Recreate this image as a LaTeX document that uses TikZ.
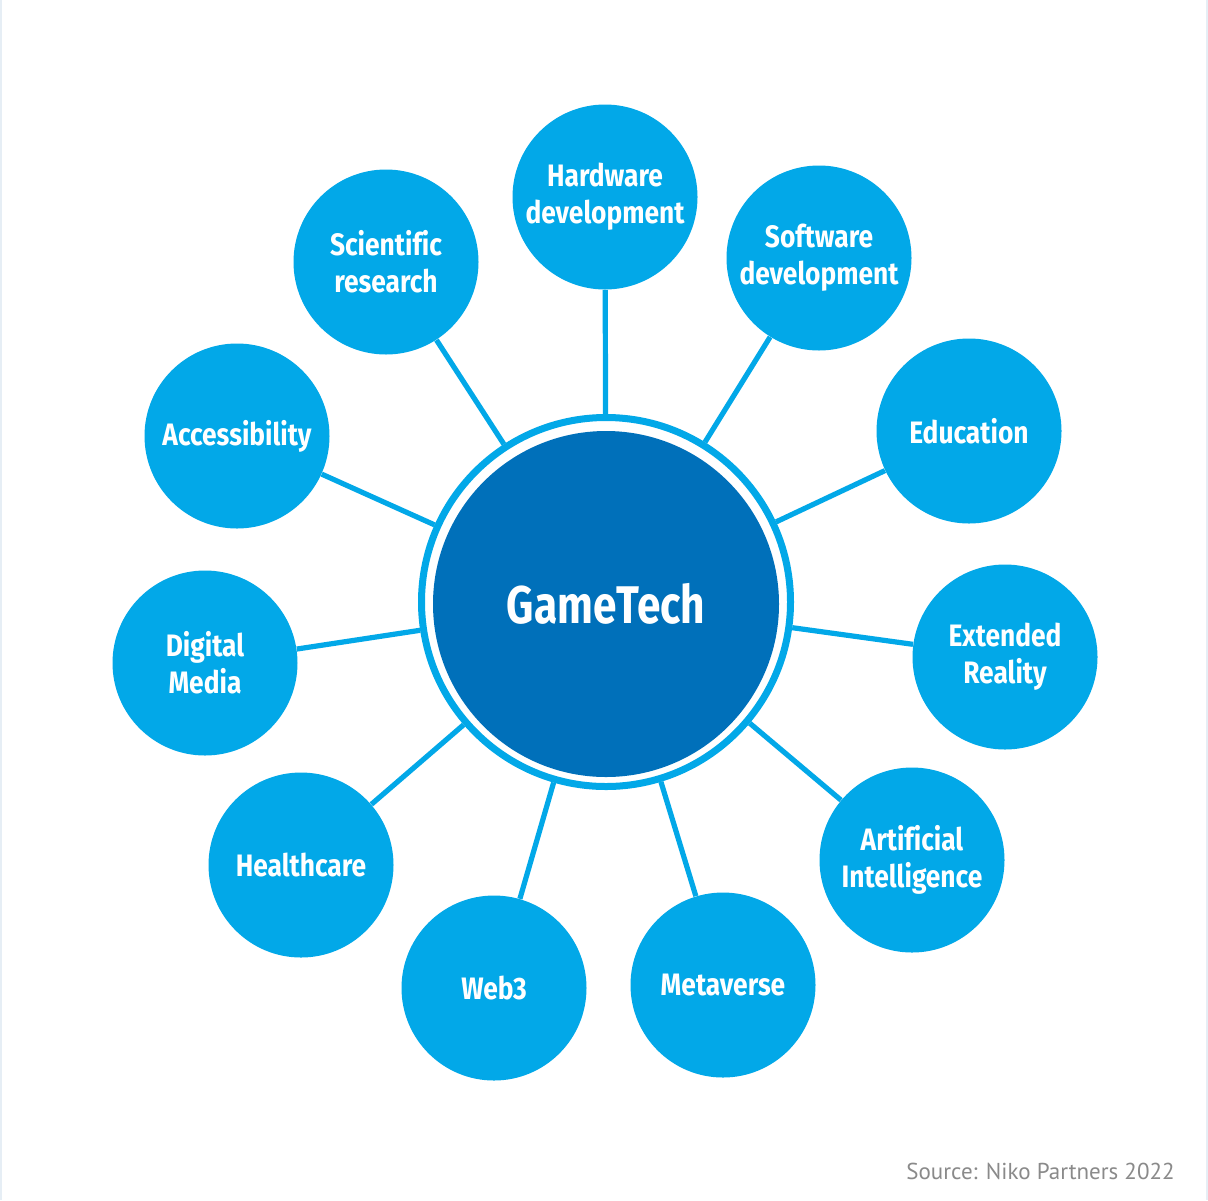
\documentclass[tikz,border=0pt]{standalone}
\usepackage{fontspec}
\newfontfamily\lab{Fira Sans}[FakeStretch=0.85,Ligatures=NoCommon]
\newfontfamily\labc{Fira Sans}[FakeStretch=0.8,Ligatures=NoCommon]
\newfontfamily\src{PT Sans}
\definecolor{lightblue}{HTML}{02A8E8}
\definecolor{darkblue}{HTML}{0070BA}
\definecolor{srcgray}{HTML}{8A8A8A}
\definecolor{edgegray}{HTML}{E6EEF5}
\begin{document}
\begin{tikzpicture}[x=0.5pt,y=-0.5pt,
  sat/.style={circle,fill=lightblue,draw=none,minimum size=92.5pt,inner sep=0pt,
    text=white,align=center,font=\lab\bfseries\fontsize{15.5}{18.5}\selectfont},
  link/.style={draw=lightblue,line width=2.6pt},
  ringnode/.style={circle,draw=lightblue,line width=3.5pt,minimum size=184.5pt,inner sep=0pt},
  corenode/.style={circle,fill=darkblue,draw=none,minimum size=173pt,inner sep=0pt,
    text=white,font=\labc\bfseries\fontsize{26.5}{30}\selectfont}]
\useasboundingbox (0,0) rectangle (1208,1200);
\fill[white] (0,0) rectangle (1208,1200);
\draw[edgegray,line width=1pt] (1,0) -- (1,1200);
\draw[edgegray,line width=1pt] (1207,0) -- (1207,1200);

\node[ringnode] (ring) at (606,602) {};
\node[corenode] (core) at (606,604) {GameTech};

\node[sat] (hw) at (605,197) {Hardware\\development};
\node[sat] (sw) at (819,258) {Software\\development};
\node[sat] (edu) at (969,431) {Education};
\node[sat] (xr) at (1005,657) {Extended\\Reality};
\node[sat] (ai) at (912,860) {Artificial\\Intelligence};
\node[sat] (meta) at (723,985) {Metaverse};
\node[sat] (web) at (494,988) {Web3};
\node[sat] (health) at (301,865) {Healthcare};
\node[sat] (dm) at (205,663) {Digital\\Media};
\node[sat] (acc) at (237,436) {Accessibility};
\node[sat] (sci) at (386,262) {Scientific\\research};

\foreach \s in {hw,sw,edu,xr,ai,meta,web,health,dm,acc,sci}
  \draw[link] (\s) -- (ring);

\node[anchor=base east,inner sep=0pt,text=srcgray,font=\src\fontsize{11.5}{14}\selectfont] (source) at (1175,1179) {Source: Niko Partners 2022};
\end{tikzpicture}
\end{document}
